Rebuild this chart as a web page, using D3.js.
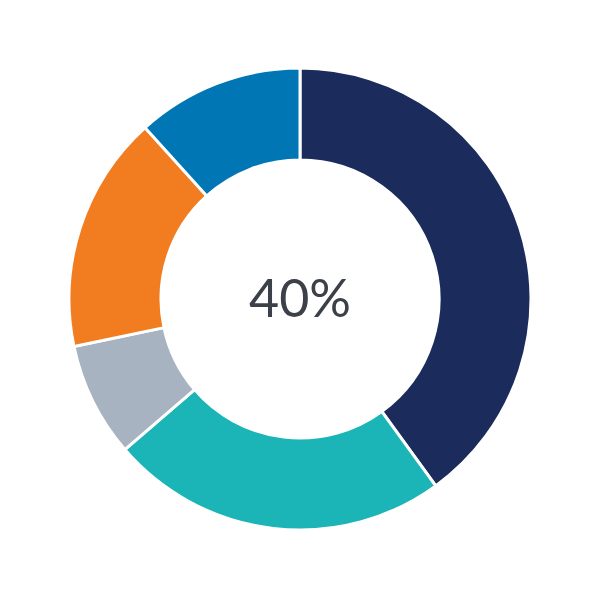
<!DOCTYPE html>
<html>
<head>
<meta charset="utf-8">
<script src="https://cdn.jsdelivr.net/npm/d3@7"></script>
<style>
  html, body { margin: 0; padding: 0; background: #fff; }
</style>
</head>
<body>
<svg id="donut" width="600" height="599"></svg>
<script>
// Slice data, clockwise from 12 o'clock
const labels = ["A", "B", "C", "D", "E"];
const values = [40, 23.7, 8, 16.6, 11.7];
const colors = ["#1b2b5b", "#1bb4b7", "#a8b3c1", "#f27d21", "#0076b5"];
const centerLabel = "40%";

const svg = d3.select("#donut");
const cx = 300, cy = 299;
const outerR = 231, innerR = 139;

const pie = d3.pie().sort(null).value(d => d.value);
const arc = d3.arc().innerRadius(innerR).outerRadius(outerR);

const data = labels.map((l, i) => ({ label: l, value: values[i], color: colors[i] }));

const g = svg.append("g").attr("transform", `translate(${cx},${cy})`);

g.selectAll(".slice")
    .data(pie(data))
    .enter()
    .append("path")
    .attr("class", "slice")
    .attr("d", arc)
    .attr("fill", d => d.data.color)
    .attr("stroke", "#fff")
    .attr("stroke-width", 3);

g.append("text")
    .attr("text-anchor", "middle")
    .attr("dy", "0.35em")
    .attr("font-family", "Lato, sans-serif")
    .attr("font-size", 52)
    .attr("fill", "#3b4049")
    .text(centerLabel);
</script>
</body>
</html>
